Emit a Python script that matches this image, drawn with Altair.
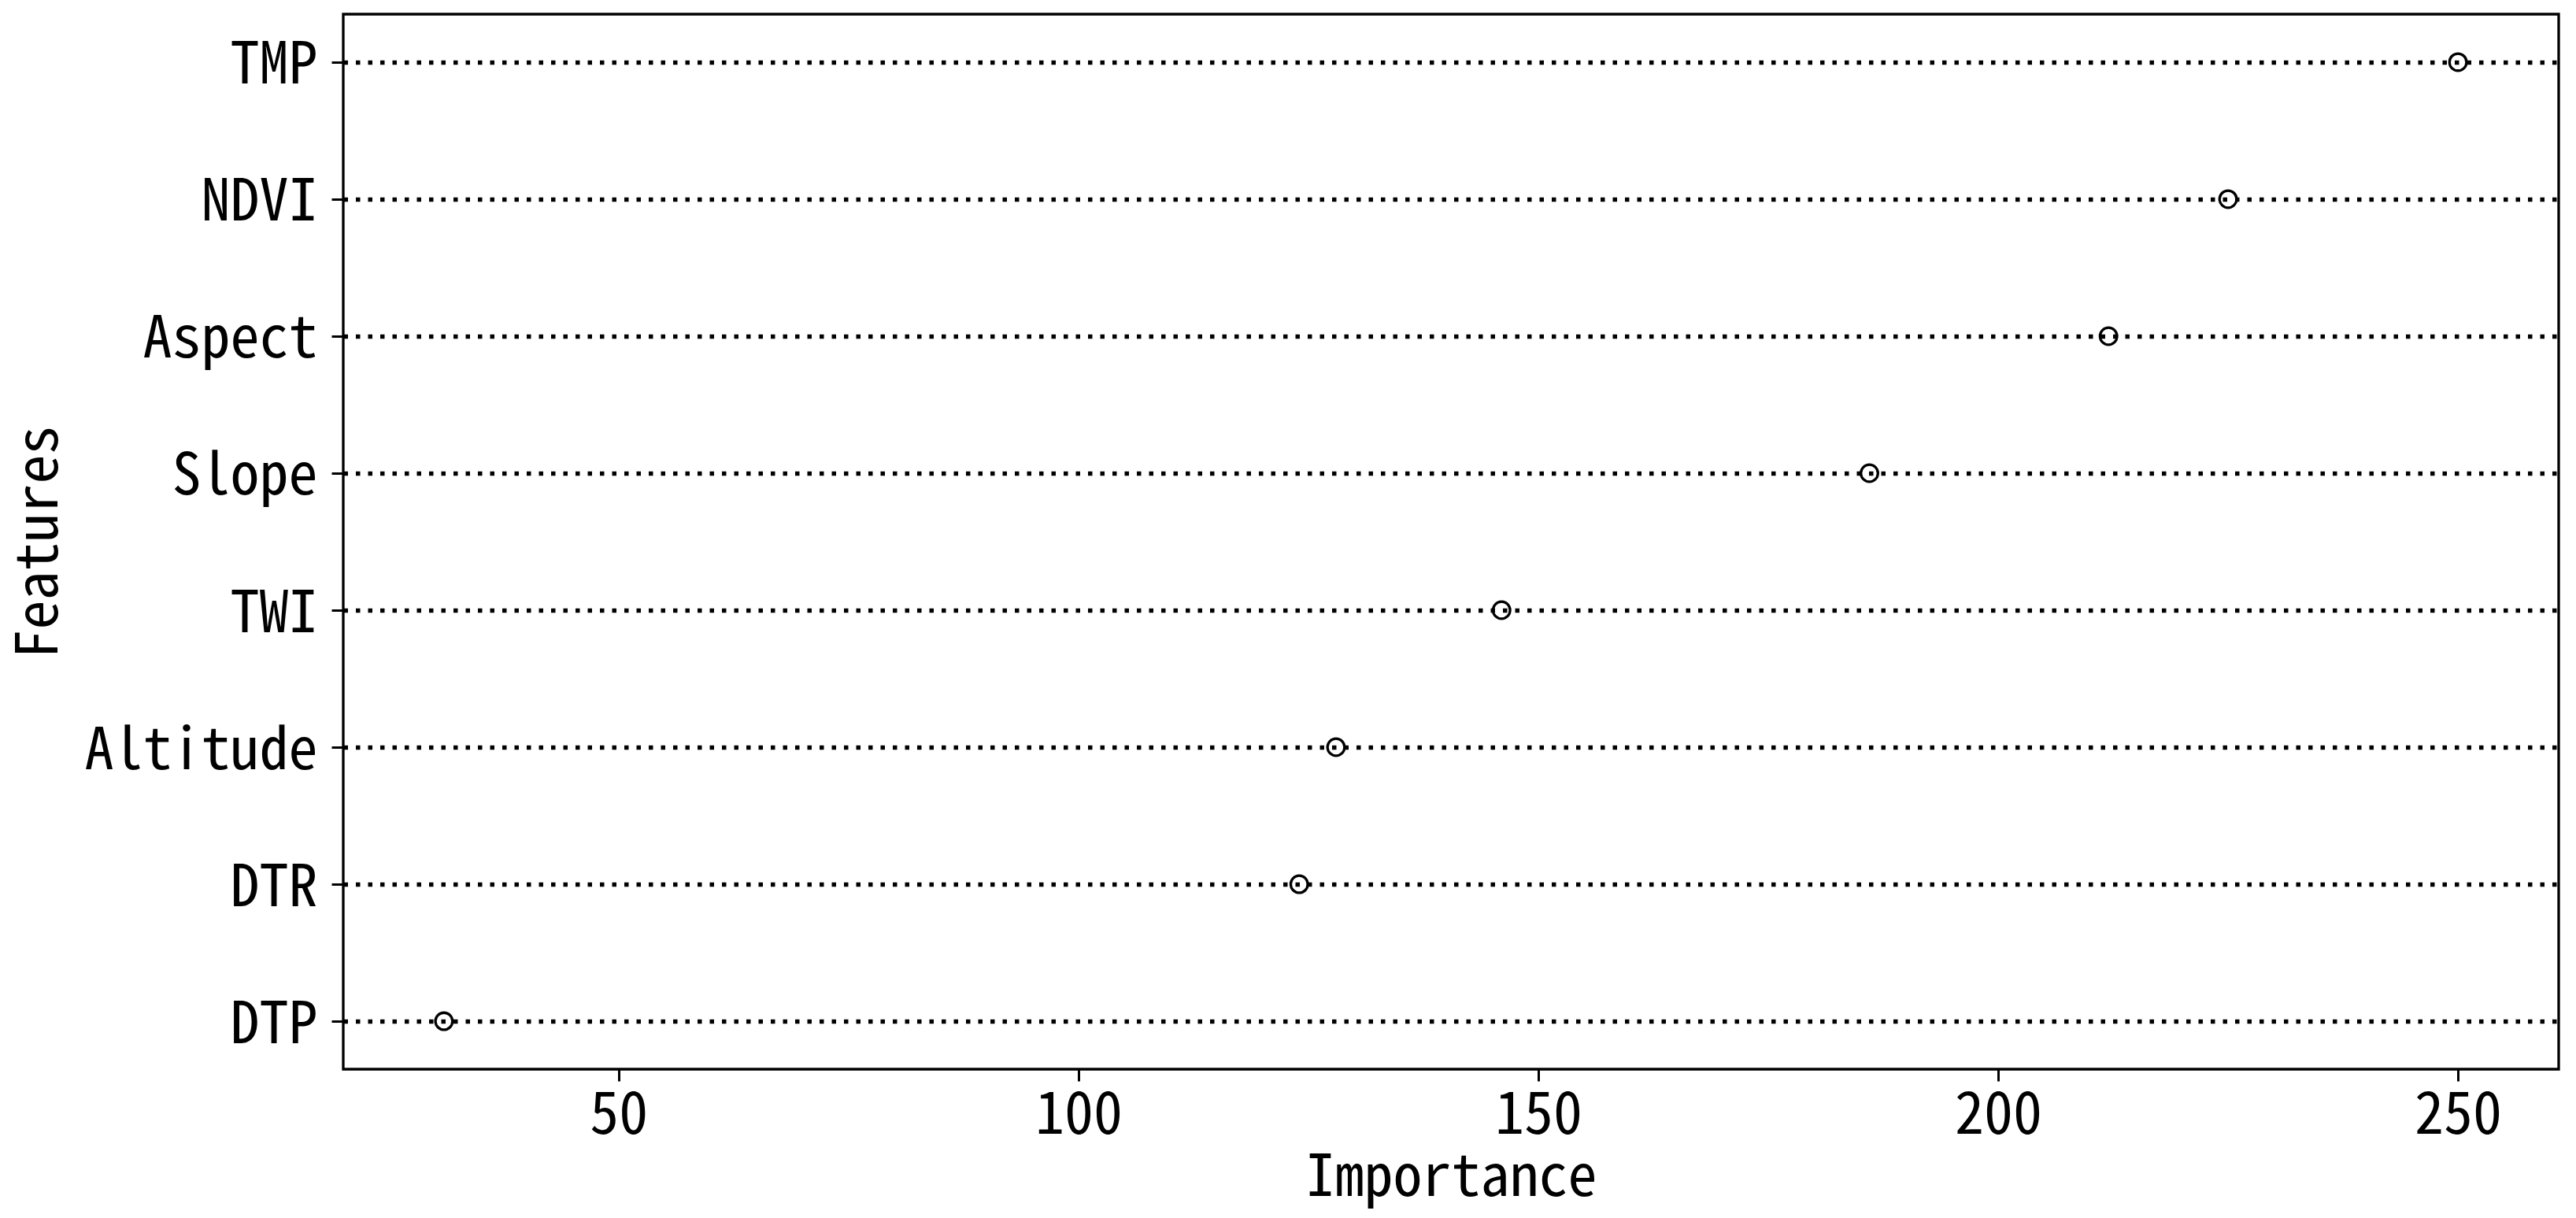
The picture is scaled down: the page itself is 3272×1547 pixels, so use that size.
import altair as alt
import pandas as pd

features = ["TMP", "NDVI", "Aspect", "Slope", "TWI", "Altitude", "DTR", "DTP"]
importance = [250, 225, 212, 186, 146, 128, 124, 31]
x_ticks = [50, 100, 150, 200, 250]

df = pd.DataFrame({"Features": features, "Importance": importance})

lo, hi = min(importance), max(importance)
m = 0.05 * (hi - lo)
x_domain = [lo - m, hi + m]

FONT = "Noto Sans Mono CJK SC, DejaVu Sans Mono, monospace"
FS = 74

chart = alt.Chart(df).mark_point(
    shape="circle", filled=False, color="black", strokeWidth=3.3, size=470, opacity=1
).encode(
    x=alt.X(
        "Importance:Q",
        scale=alt.Scale(domain=x_domain, nice=False, zero=False),
        axis=alt.Axis(
            values=x_ticks, grid=False, domain=False,
            tickColor="black", tickWidth=3, tickSize=15,
            labelFont=FONT, labelFontSize=FS, labelColor="black",
            labelBaseline="alphabetic", labelPadding=66, labelFlush=False,
            labelLimit=0,
            title="Importance", titleFont=FONT, titleFontSize=FS,
            titleFontWeight="normal", titleColor="black",
            titleBaseline="alphabetic", titleY=160,
        ),
    ),
    y=alt.Y(
        "Features:N",
        sort=features,
        scale=alt.Scale(type="point", padding=0.35),
        axis=alt.Axis(
            domain=False, grid=True, gridColor="black", gridOpacity=1,
            gridWidth=5.5, gridDash=[5.5, 10], gridCap="butt",
            tickColor="black", tickWidth=3, tickSize=15,
            labelFont=FONT, labelFontSize=FS, labelColor="black",
            labelBaseline="alphabetic", labelOffset=27, labelPadding=18,
            labelAlign="right", labelLimit=0,
            title="Features", titleFont=FONT, titleFontSize=FS,
            titleFontWeight="normal", titleColor="black",
            titleBaseline="alphabetic", titleAngle=270, titleAlign="center",
            titleX=-364, titleY=670,
        ),
    ),
).properties(
    width=2814,
    height=1340,
    autosize=alt.AutoSizeParams(type="none"),
    padding={"left": 428, "top": 10, "right": 14, "bottom": 181},
    background="white",
).configure_view(
    stroke="black", strokeWidth=3.3
)

chart.save("out.html", embed_options={"renderer": "svg", "actions": False})
